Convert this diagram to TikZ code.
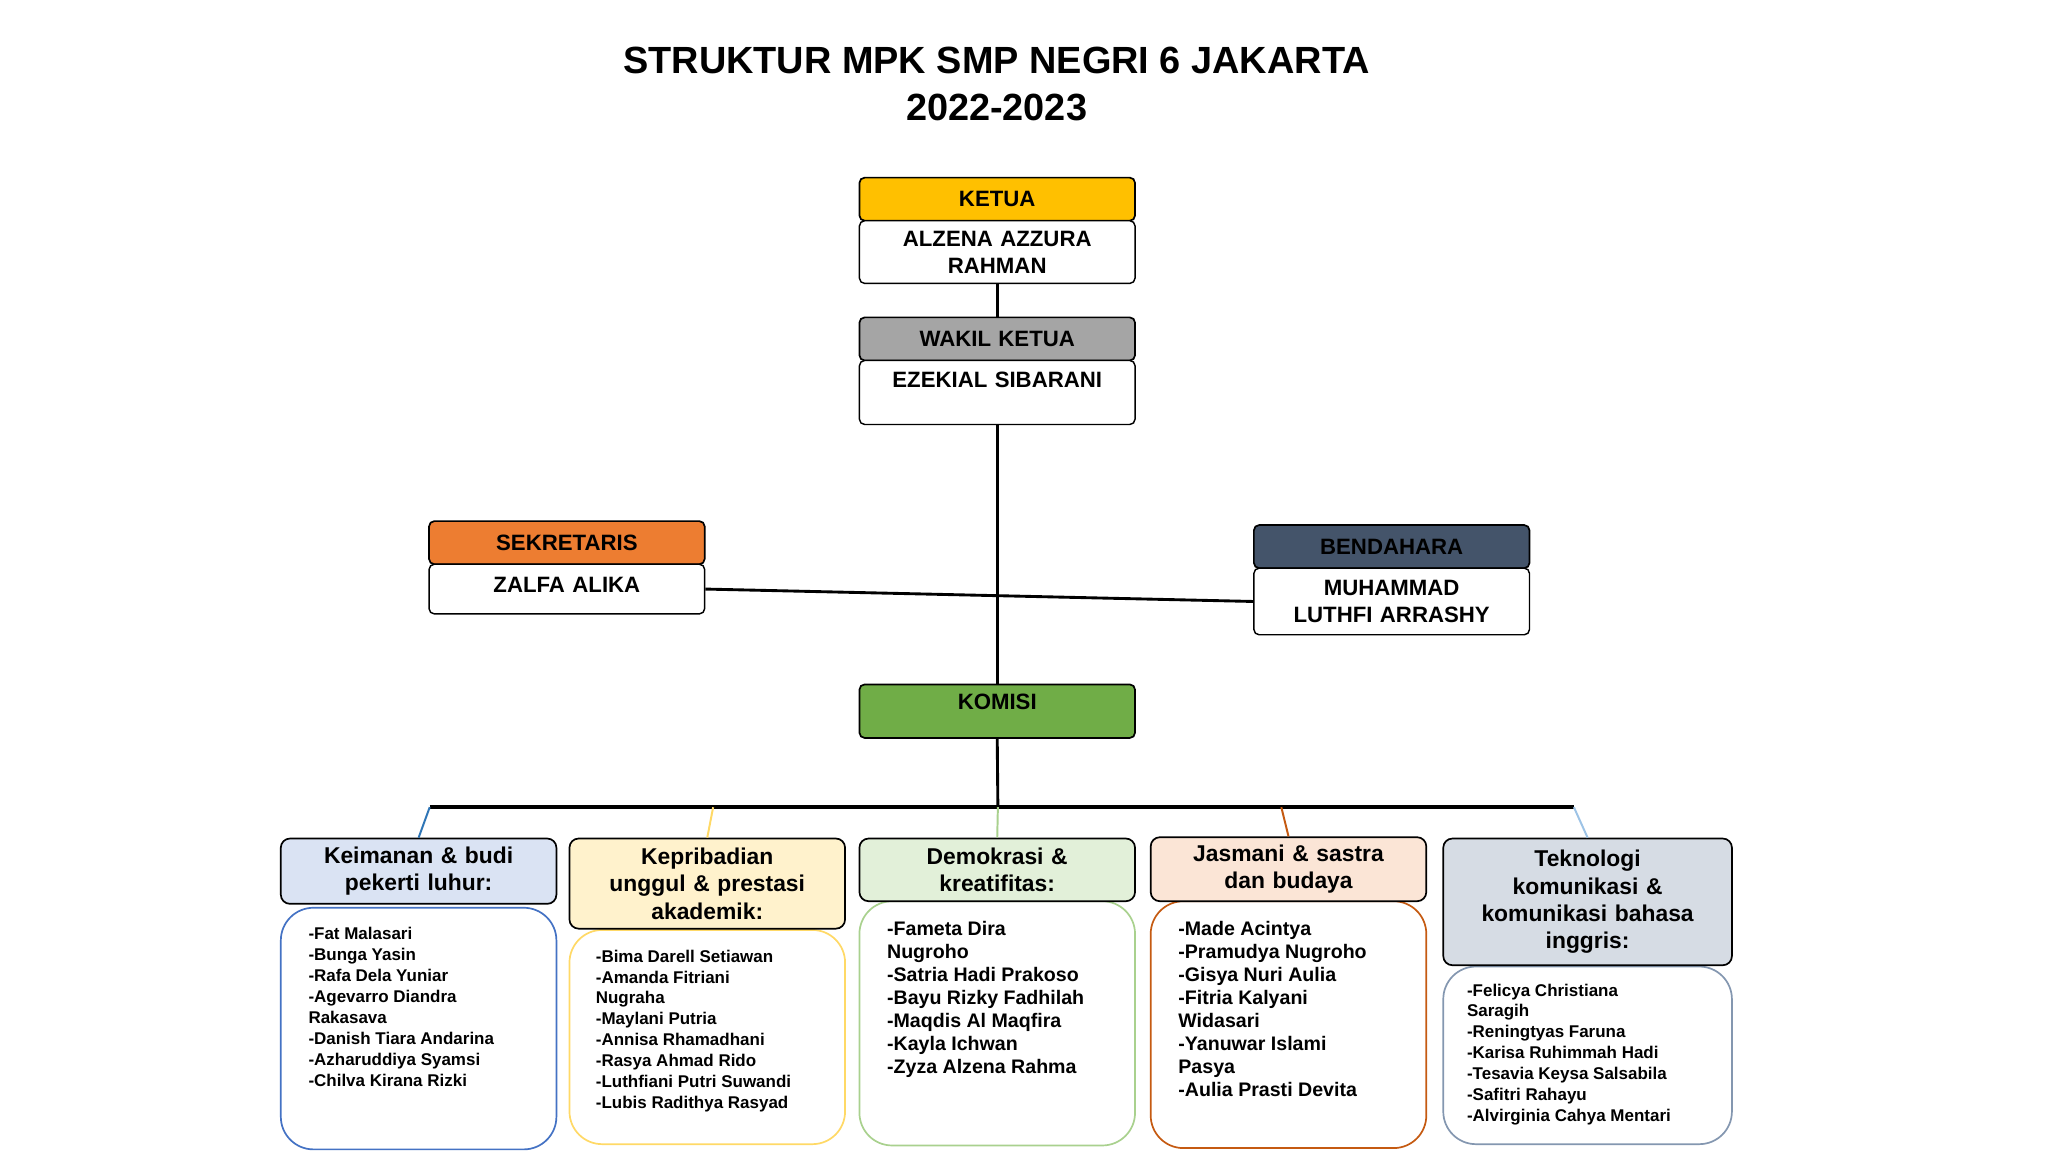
\documentclass[tikz,border=0pt]{standalone}
\usepackage{fontspec}
\setmainfont{Liberation Sans}
\begin{document}
\begin{tikzpicture}[x=1pt,y=-1pt,
  hd/.style={draw=black, line width=1.3pt, rounded corners=4pt, minimum width=211pt, inner sep=2pt, font=\fontsize{17}{19}\selectfont\bfseries, align=center, text width=205pt},
  nm/.style={draw=black, line width=1.1pt, rounded corners=4pt, minimum width=211pt, inner sep=2pt, font=\fontsize{17}{21}\selectfont\bfseries, align=center, text width=205pt},
  ch/.style={draw=black, line width=1.3pt, rounded corners=7pt, minimum width=211pt, inner sep=2pt, font=\fontsize{17.5}{21}\selectfont\bfseries, align=center, text width=190pt},
  lb/.style={line width=1.3pt, rounded corners=25pt, minimum width=211pt},
  lt/.style={anchor=north west, inner sep=0pt, align=left, font=\fontsize{13}{16}\selectfont\bfseries},
  ltb/.style={anchor=north west, inner sep=0pt, align=left, font=\fontsize{15}{17.6}\selectfont\bfseries},
  ln/.style={line width=2.2pt}]
\useasboundingbox (0,0) rectangle (1568,882);
\fill[white] (0,0) rectangle (1568,882);
\node[font=\fontsize{29}{36}\selectfont\bfseries, align=center] (title) at (763,64) {STRUKTUR MPK SMP NEGRI 6 JAKARTA\\2022-2023};
% top
\node[hd, fill={rgb,255:red,255;green,192;blue,0}, minimum height=33] (kh) at (763.5,152.5) {KETUA};
\node[nm, minimum height=48, fill=white] (kn) at (763.5,193) {ALZENA AZZURA\\RAHMAN};
\node[hd, fill={rgb,255:red,165;green,165;blue,165}, minimum height=33] (wh) at (763.5,259.5) {WAKIL KETUA};
\node[nm, minimum height=49, fill=white, text depth=20pt] (wn) at (763.5,300.5) {EZEKIAL SIBARANI};
\node[hd, fill={rgb,255:red,237;green,125;blue,49}, minimum height=33] (sh) at (434,415.5) {SEKRETARIS};
\node[nm, minimum height=38, fill=white, text depth=6pt] (sn) at (434,451) {ZALFA ALIKA};
\node[hd, fill={rgb,255:red,68;green,84;blue,106}, minimum height=33] (bh) at (1065.5,418.5) {BENDAHARA};
\node[nm, minimum height=51, fill=white] (bn) at (1065.5,460.5) {MUHAMMAD\\LUTHFI ARRASHY};
\node[hd, fill={rgb,255:red,112;green,173;blue,71}, minimum height=41, text depth=14pt] (ko) at (763.5,544.5) {KOMISI};
\coordinate (bl) at (329,618); \coordinate (br) at (1205,618);
\coordinate (b2) at (546,618); \coordinate (b3) at (764,618); \coordinate (b4) at (981,618);
% commissions
\node[lb, draw={rgb,255:red,68;green,114;blue,196}, minimum height=185] (l1) at (320.5,787.5) {};
\node[lb, draw={rgb,255:red,255;green,217;blue,102}, minimum height=164] (l2) at (541.5,794) {};
\node[lb, draw={rgb,255:red,169;green,209;blue,142}, minimum height=187] (l3) at (763.5,783.5) {};
\node[lb, draw={rgb,255:red,197;green,90;blue,17}, minimum height=189] (l4) at (986.5,784.5) {};
\node[lb, draw={rgb,255:red,132;green,151;blue,176}, minimum height=136, minimum width=221] (l5) at (1215.5,808) {};
\node[ch, fill={rgb,255:red,218;green,227;blue,243}, minimum height=50] (c1) at (320.5,667) {Keimanan \& budi\\pekerti luhur:};
\node[ch, fill={rgb,255:red,255;green,242;blue,204}, minimum height=69] (c2) at (541.5,676.5) {Kepribadian\\unggul \& prestasi\\akademik:};
\node[ch, fill={rgb,255:red,226;green,240;blue,217}, minimum height=48] (c3) at (763.5,666) {Demokrasi \&\\kreatifitas:};
\node[ch, fill={rgb,255:red,251;green,229;blue,214}, minimum height=49] (c4) at (986.5,665.5) {Jasmani \& sastra\\dan budaya};
\node[ch, fill={rgb,255:red,214;green,220;blue,228}, minimum height=97, minimum width=221] (c5) at (1215.5,690.5) {Teknologi\\komunikasi \&\\komunikasi bahasa\\inggris:};
\node[lt] (t1) at (236,710) {-Fat Malasari\\-Bunga Yasin\\-Rafa Dela Yuniar\\-Agevarro Diandra\\Rakasava\\-Danish Tiara Andarina\\-Azharuddiya Syamsi\\-Chilva Kirana Rizki};
\node[lt] (t2) at (456,727) {-Bima Darell Setiawan\\-Amanda Fitriani\\Nugraha\\-Maylani Putria\\-Annisa Rhamadhani\\-Rasya Ahmad Rido\\-Luthfiani Putri Suwandi\\-Lubis Radithya Rasyad};
\node[ltb] (t3) at (679,705) {-Fameta Dira\\Nugroho\\-Satria Hadi Prakoso\\-Bayu Rizky Fadhilah\\-Maqdis Al Maqfira\\-Kayla Ichwan\\-Zyza Alzena Rahma};
\node[ltb] (t4) at (902,705) {-Made Acintya\\-Pramudya Nugroho\\-Gisya Nuri Aulia\\-Fitria Kalyani\\Widasari\\-Yanuwar Islami\\Pasya\\-Aulia Prasti Devita};
\node[lt] (t5) at (1123,753) {-Felicya Christiana\\Saragih\\-Reningtyas Faruna\\-Karisa Ruhimmah Hadi\\-Tesavia Keysa Salsabila\\-Safitri Rahayu\\-Alvirginia Cahya Mentari};
% connectors
\draw[ln] (kn.south) -- (wh.north);
\draw[ln] (wn.south) -- (ko.north);
\draw[ln] (sn.east) -- (bn.west);
\draw[ln] (ko.south) -- (b3);
\draw[line width=3pt] (bl) -- (br);
\draw[line width=1.5pt, draw={rgb,255:red,46;green,117;blue,182}] (bl) -- (c1.north);
\draw[line width=1.5pt, draw={rgb,255:red,255;green,217;blue,102}] (b2) -- (c2.north);
\draw[line width=1.5pt, draw={rgb,255:red,169;green,209;blue,142}] (b3) -- (c3.north);
\draw[line width=1.5pt, draw={rgb,255:red,197;green,90;blue,17}] (b4) -- (c4.north);
\draw[line width=1.5pt, draw={rgb,255:red,157;green,195;blue,230}] (br) -- (c5.north);
\end{tikzpicture}
\end{document}
